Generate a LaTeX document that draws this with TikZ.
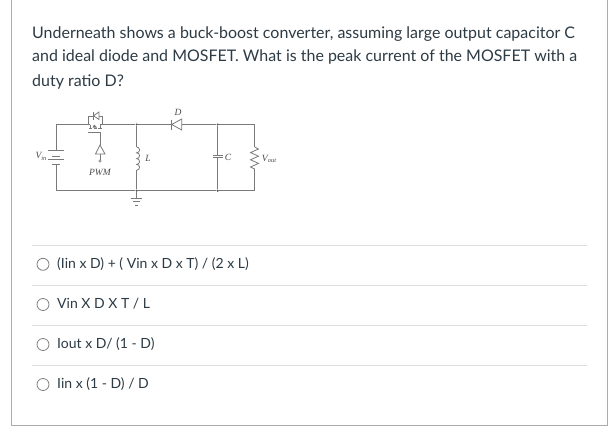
\documentclass[tikz,border=0pt]{standalone}
\usepackage{fontspec}
\setmainfont{Lato}
\newfontfamily\serifcirc{Liberation Serif}[Ligatures=TeX]
\usetikzlibrary{calc}
\definecolor{ink}{HTML}{2D3B45}
\definecolor{wirec}{HTML}{7A7A7A}
\definecolor{framec}{HTML}{ABABAB}
\definecolor{rulec}{HTML}{DDDDDD}
\tikzset{
  question/.style={anchor=base west,inner sep=0pt,text=ink,font=\fontsize{15.97}{20}\selectfont},
  answer/.style={anchor=base west,inner sep=0pt,text=ink,font=\fontsize{14}{16}\selectfont},
  radio/.style={circle,draw=black!50,line width=0.8pt,minimum size=12pt,inner sep=0pt},
  wire/.style={draw=wirec,line width=0.8pt},
  partlabel/.style={inner sep=0pt,text=black!70,font=\serifcirc\itshape\fontsize{9.5}{11}\selectfont},
  dot/.style={circle,fill=black!70,inner sep=0pt,minimum size=2.4pt},
  divider/.style={draw=rulec,line width=0.9pt},
}
\begin{document}
\begin{tikzpicture}[x=1pt,y=-1pt]
\useasboundingbox (0,0) rectangle (615,436);
\fill[white] (0,0) rectangle (615,436);
% frame
\draw[framec,line width=1pt] (11.5,-2) -- (11.5,425.5) -- (607.5,425.5) -- (607.5,-2);
% question
\node[question] (q1) at (32,38) {Underneath shows a buck-boost converter, assuming large output capacitor C};
\node[question] (q2) at (32,62) {and ideal diode and MOSFET. What is the peak current of the MOSFET with a};
\node[question] (q3) at (32,86.5) {duty ratio D?};
% circuit points
\coordinate (tl) at (56,124.5);
\coordinate (bl) at (56,190.7);
\coordinate (mosl) at (88,124.5);
\coordinate (mosr) at (102,124.5);
\node[dot] (jt) at (136.7,124.5) {};
\node[dot] (jb) at (136.7,190.7) {};
\node[dot] (ct) at (217.7,124.5) {};
\node[dot] (cb) at (217.7,190.7) {};
\coordinate (tr) at (254.7,124.5);
\coordinate (br) at (254.7,190.7);
% wires
\draw[wire] (tl) -- (mosl) -- (90,124.5);
\draw[wire] (mosr) -- (jt);
\draw[wire] (jt) -- (171.7,124.5);
\draw[wire] (181.7,124.5) -- (ct);
\draw[wire] (ct) -- (tr) -- (254.7,147);
\draw[wire] (254.7,169) -- (br) -- (cb) -- (jb) -- (bl) -- (56,164);
\draw[wire] (tl) -- (56,150.7);
% battery
\draw[wire] (48,150.7) -- (64,150.7);
\draw[wire] (52,156.7) -- (60,156.7);
\draw[wire] (48,159) -- (64,159);
\draw[wire] (52,164) -- (60,164);
\node[partlabel] (vin) at (41,156.5) {V\raisebox{-1.5pt}{\fontsize{6.5}{7}\selectfont in}};
% MOSFET
\draw[wire] (90,124.5) -- (90,128) (100,124.5) -- (100,128) (100,124.5) -- (mosr);
\draw[wire,line width=1.1pt] (88.5,128.5) -- (92,128.5) (93.5,128.5) -- (96.5,128.5) (98,128.5) -- (101.5,128.5);
\fill[wirec] (94,124.5) -- (97,127.5) -- (92.5,127.5) -- cycle;
% body diode
\draw[wire] (88,124.5) -- (88,116) -- (102,116) -- (102,124.5);
\draw[wire,fill=white] (99,112) -- (99,119.5) -- (93.5,115.7) -- cycle;
\draw[wire] (93.5,112) -- (93.5,119.5);
% gate and buffer
\draw[wire] (88,132.7) -- (100,132.7) -- (100,145);
\draw[wire,fill=white] (100,145) -- (105,154) -- (95.5,154) -- cycle;
\draw[wire] (100,154) -- (100,159.5);
\node[circle,draw=wirec,line width=0.6pt,inner sep=0pt,minimum size=2.6pt] (pwmin) at (100,161) {};
\node[partlabel] (pwm) at (100,172) {PWM};
% inductor
\draw[wire] (jt) -- (136.7,147);
\draw[wire] (136.7,147)
  arc[start angle=90,end angle=-90,radius=2.9pt]
  arc[start angle=90,end angle=-90,radius=2.9pt]
  arc[start angle=90,end angle=-90,radius=2.9pt]
  arc[start angle=90,end angle=-90,radius=2.9pt];
\draw[wire] (136.7,170.2) -- (jb);
\node[partlabel] (ll) at (148,158.5) {L};
% ground
\draw[wire] (jb) -- (136.7,198);
\draw[wire] (131,198) -- (142.4,198);
\draw[wire] (133,201.5) -- (140.4,201.5);
\draw[wire] (135,205) -- (138.4,205);
% diode D
\draw[wire] (171.7,119.5) -- (171.7,129.5);
\draw[wire,fill=white] (181.7,119) -- (181.7,130) -- (171.7,124.5) -- cycle;
\node[partlabel] (dd) at (178,112) {D};
% capacitor
\draw[wire] (ct) -- (217.7,155);
\draw[wire] (212.7,155) -- (222.7,155);
\draw[wire] (212.7,157.6) -- (222.7,157.6);
\draw[wire] (217.7,157.6) -- (cb);
\node[partlabel] (cc) at (228,157) {C};
% resistor
\draw[wire] (254.7,147) -- (258.5,149) -- (250.5,152.6) -- (258.5,156.2) -- (250.5,159.8) -- (258.5,163.4) -- (250.5,167) -- (254.7,169);
\node[partlabel] (vout) at (269,159) {V\raisebox{-1.5pt}{\fontsize{6.5}{7}\selectfont out}};
% answers
\draw[divider] (32,245.5) -- (587,245.5);
\draw[divider] (32,285.5) -- (587,285.5);
\draw[divider] (32,325.5) -- (587,325.5);
\draw[divider] (32,365.5) -- (587,365.5);
\node[radio] (r1) at (43,264.3) {};
\node[radio] (r2) at (43,304.5) {};
\node[radio] (r3) at (43,344.5) {};
\node[radio] (r4) at (43,384.5) {};
\node[answer] (a1) at (57,268) {(Iin x D) + ( Vin x D x T) / (2 x L)};
\node[answer] (a2) at (57,308) {Vin X D X T / L};
\node[answer] (a3) at (57,348) {Iout x D/ (1 - D)};
\node[answer] (a4) at (57,388) {Iin x (1 - D) / D};
\end{tikzpicture}
\end{document}
